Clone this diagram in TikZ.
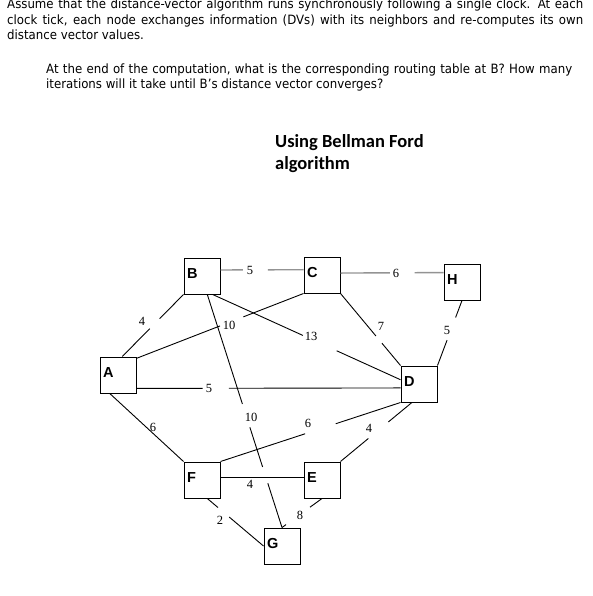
\documentclass[tikz,border=0pt]{standalone}
\usepackage{fontspec}
\usepackage{tikz}
\usetikzlibrary{calc}
\newfontfamily\tahomafont[FakeStretch=0.92]{DejaVu Sans}
\newfontfamily\titlefont{Carlito}
\newfontfamily\boxfont{Liberation Sans}
\newfontfamily\wtfont{Liberation Serif}
% link with a gap left open for its weight
\newcommand{\gapedge}[5][wire]{%
  \draw[#1] (#2) -- ($(#2)!#4!(#3)$);
  \draw[#1] ($(#2)!#5!(#3)$) -- (#3);}

\begin{document}
\begin{tikzpicture}[x=1pt, y=-1pt,
  router/.style={draw, line width=1pt, minimum size=36pt, inner sep=3pt,
    text width=30pt, align=left, text height=10pt, text depth=6pt,
    font=\boxfont\bfseries\fontsize{14.5}{14.5}\selectfont},
  wire/.style={line width=0.9pt},
  greywire/.style={draw=gray!85, line width=1.4pt},
  wt/.style={inner sep=0pt, font=\wtfont\fontsize{12.5}{12.5}\selectfont},
  para/.style={inner sep=0pt, anchor=base west,
    font=\tahomafont\fontsize{12.8}{15}\selectfont},
  head/.style={inner sep=0pt, anchor=base west,
    font=\titlefont\bfseries\fontsize{18.5}{21}\selectfont}]
\useasboundingbox (0,0) rectangle (593,596);

% question text
\node[para] (l1) at (7,9) {\makebox[576pt][s]{Assume that the distance-vector algorithm runs synchronously following a single clock. At each}};
\node[para] (l2) at (7,24.5) {\makebox[576pt][s]{clock tick, each node exchanges information (DVs) with its neighbors and re-computes its own}};
\node[para] (l3) at (7,39.5) {distance vector values.};
\node[para] (q1) at (46,74) {\makebox[526pt][s]{At the end of the computation, what is the corresponding routing table at B? How many}};
\node[para] (q2) at (46,89) {iterations will it take until B’s distance vector converges?};
\node[head] (t1) at (275,148) {Using Bellman Ford};
\node[head] (t2) at (275,169) {algorithm};

% routers
\node[router] (A) at (118,375) {A};
\node[router] (B) at (202,276) {B};
\node[router] (C) at (322,275) {C};
\node[router] (H) at (462,282) {H};
\node[router] (D) at (419,384) {D};
\node[router] (F) at (202,480) {F};
\node[router] (E) at (322,480) {E};
\node[router] (G) at (282,546) {G};

% links
\gapedge[greywire]{B.18}{C.164}{.27}{.57}
\gapedge[greywire]{C.6}{H.153}{.48}{.72}
\gapedge{A.77}{B.south west}{.45}{.61}
\gapedge{A.42}{C.south west}{.5}{.64}
\gapedge{B.300}{D.167}{.48}{.66}
\gapedge{A.324}{D.192}{.25}{.35}
\draw[wire] (A.246) -- (F.north west);
\gapedge{C.south east}{D.north west}{.59}{.69}
\gapedge{H.south}{D.north east}{.26}{.61}
\gapedge{F.north east}{D.south west}{.47}{.64}
\gapedge{E.north east}{D.249}{.39}{.67}
\gapedge{F.286}{G.west}{.19}{.39}
\gapedge{E.south}{G.north}{.3}{.9}
\draw[wire] (B.286) -- ($(B.286)!.47!(G.north)$);
\draw[wire] ($(B.286)!.57!(G.north)$) -- ($(B.286)!.74!(G.north)$);
\draw[wire] ($(B.286)!.81!(G.north)$) -- (G.north);
\draw[wire] (F.9) -- (E.171);

% weights
\node[wt] (wAB) at (142,321) {4};
\node[wt] (wBC) at (250,270) {5};
\node[wt] (wCH) at (396,273) {6};
\node[wt] (wAC) at (229,325) {10};
\node[wt] (wBD) at (311,336) {13};
\node[wt] (wBG) at (251,417) {10};
\node[wt] (wAD) at (209,388) {5};
\node[wt] (wAF) at (153,427) {6};
\node[wt] (wCD) at (381,326) {7};
\node[wt] (wHD) at (447,330) {5};
\node[wt] (wFD) at (308,423) {6};
\node[wt] (wED) at (369,428) {4};
\node[wt] (wFE) at (250,484) {4};
\node[wt] (wFG) at (220,520) {2};
\node[wt] (wEG) at (300,515) {8};
\end{tikzpicture}
\end{document}
